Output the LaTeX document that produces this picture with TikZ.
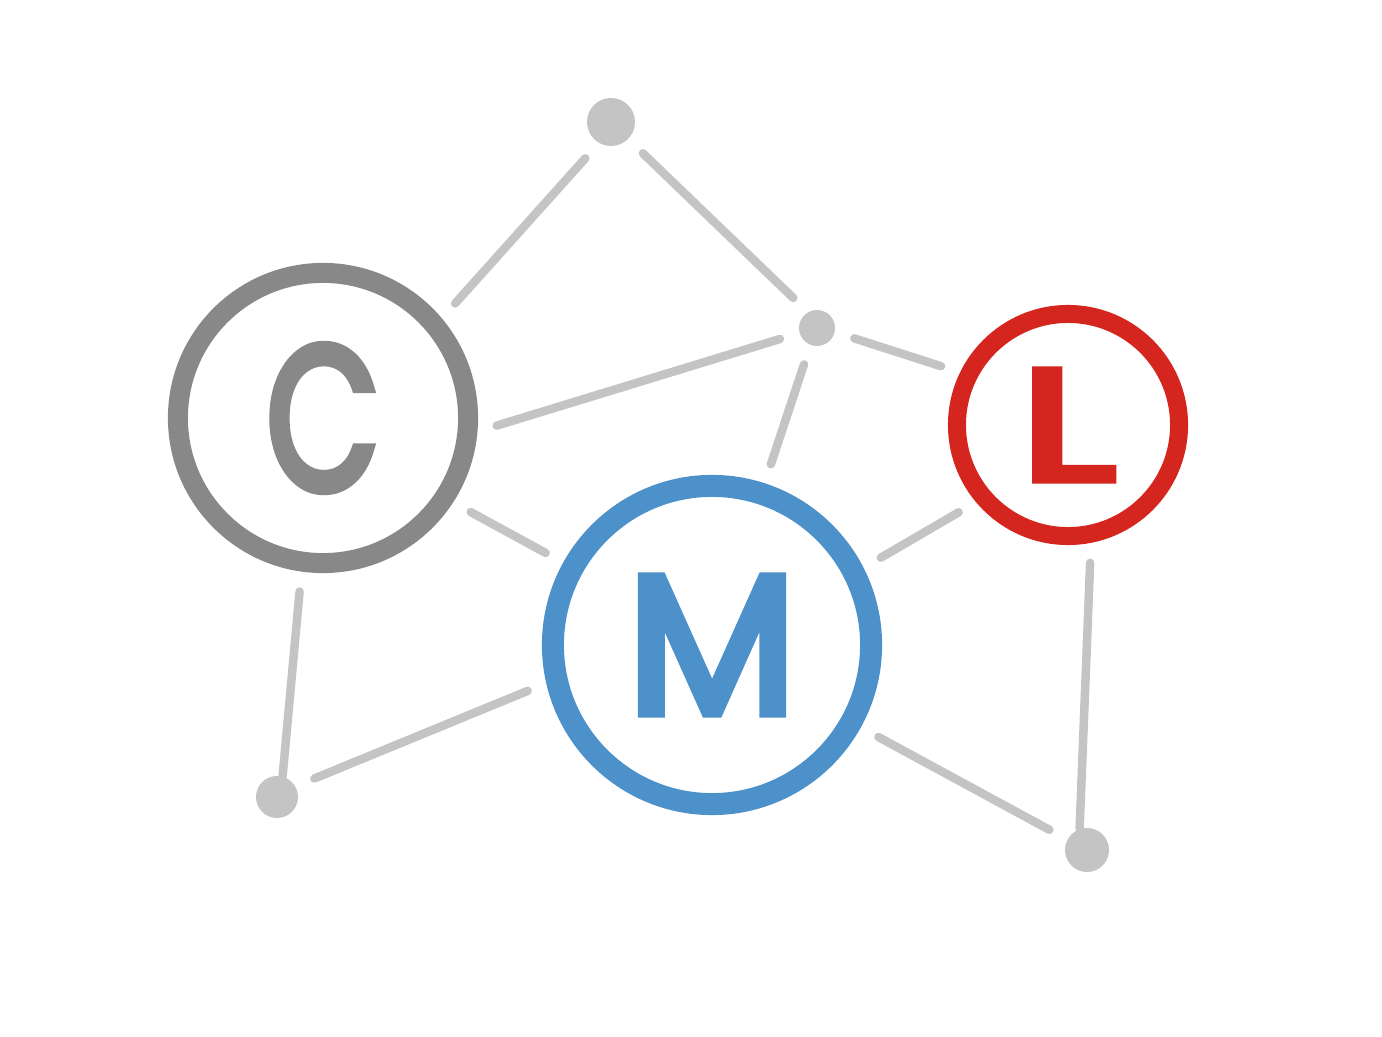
\documentclass[tikz,border=0pt]{standalone}
\usepackage{fontspec}
\setmainfont{Poppins}
\newfontfamily\letterfont{Poppins}[FakeBold=4.5]
\usetikzlibrary{calc}

\definecolor{cgray}{HTML}{888888}
\definecolor{mblue}{HTML}{4D91CB}
\definecolor{lred}{HTML}{D4261F}
\definecolor{linkgray}{HTML}{C4C4C4}

\begin{document}
\begin{tikzpicture}[x=0.01cm, y=-0.01cm,
  dot/.style={circle, fill=linkgray, inner sep=0pt, minimum size=#1},
  ring/.style={circle, draw=#1, text=#1, line width=0.2cm, inner sep=0pt},
  link/.style={draw=linkgray, line width=0.085cm, line cap=round,
    shorten <=0.2cm, shorten >=0.2cm}]%
  \useasboundingbox (0,0) rectangle (1382,1037);
  % dots
  \node[dot=0.48cm] (top) at (611,122) {};
  \node[dot=0.36cm] (hub) at (817,328) {};
  \node[dot=0.42cm] (bl) at (277,797) {};
  \node[dot=0.44cm] (br) at (1087,850) {};
  % letters
  \node[ring=cgray, minimum size=2.9cm,
    font=\letterfont\fontsize{58}{58}\selectfont] (cee) at (323,418)
    {\scalebox{0.72}[1]{C}};
  \node[ring=mblue, minimum size=3.18cm, line width=0.22cm,
    font=\letterfont\fontsize{56}{56}\selectfont] (em) at (712,645)
    {\raisebox{-0.25cm}{M}};
  \node[ring=lred, minimum size=2.22cm, line width=0.18cm,
    font=\letterfont\fontsize{45}{45}\selectfont] (ell) at (1068,425)
    {\scalebox{1.4}[1]{L}};
  % links
  \foreach \a/\b in {top.240/cee.40, top.-45/hub.120, cee.-5/hub.196,
      hub.-13/ell.154, hub.249/em.72, cee.-33/em.151, em.27/ell.220,
      bl.30/em.193, em.-29/br.152} {
    \draw[link] (\a) -- (\b);
  }
  \draw[link, shorten >=0pt] (cee.262) -- (bl.75);
  \draw[link, shorten >=0pt] (ell.281) -- (br.109);
\end{tikzpicture}
\end{document}
